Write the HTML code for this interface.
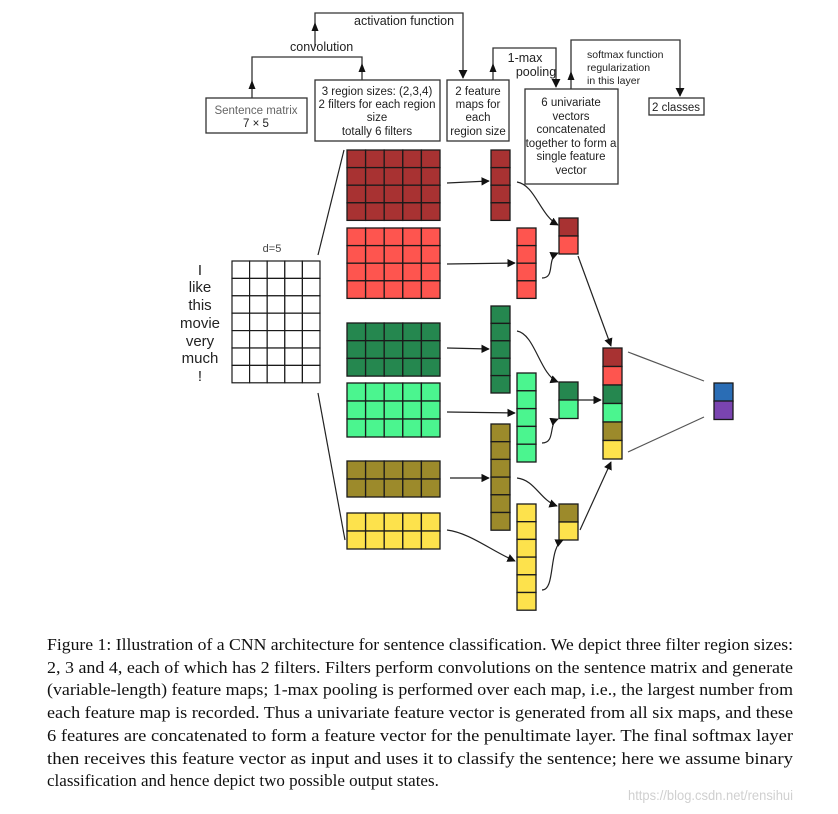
<!DOCTYPE html>
<html><head><meta charset="utf-8"><style>
html,body{margin:0;padding:0;background:#fff;width:838px;height:814px;overflow:hidden}
svg text{font-family:"Liberation Sans",sans-serif}
.cap{font-family:"Liberation Serif",serif;font-size:17px;fill:#111}
</style></head><body>
<svg id="s" width="838" height="814" viewBox="0 0 838 814" xmlns="http://www.w3.org/2000/svg">
<defs>
<marker id="a" viewBox="0 0 10 10" refX="9" refY="5" markerWidth="7" markerHeight="7" orient="auto-start-reverse"><path d="M0,0L10,5L0,10z" fill="#111"/></marker>
</defs>
<g fill="none" stroke="#333" stroke-width="1.3">
<rect x="206" y="98" width="101" height="35"/>
<rect x="315" y="80" width="125" height="61"/>
<rect x="447" y="80" width="62" height="61"/>
<rect x="525" y="89" width="93" height="95"/>
<rect x="649" y="98" width="55" height="17"/>
<path d="M252,98V57H362V80"/>
<path d="M315,47V13H463V78" marker-end="url(#a)"/>
<path d="M493,80V48H556V87" marker-end="url(#a)"/>
<path d="M571,89V40H680V96" marker-end="url(#a)"/>
</g>
<g fill="#111">
<path d="M252,80l-3.5,9h7z"/><path d="M362,63l-3.5,9h7z"/><path d="M315,22l-3.5,9h7z"/><path d="M493,63l-3.5,9h7z"/><path d="M571,71l-3.5,9h7z"/>
</g>
<g style="fill:#222">
<text x="256" y="114" font-size="11.5" text-anchor="middle" style="fill:#666">Sentence matrix</text>
<text x="256" y="127" font-size="11.5" text-anchor="middle">7 × 5</text>
<text x="290" y="51" font-size="12.5">convolution</text>
<text x="354" y="25" font-size="12.5">activation function</text>
<g font-size="11.5" text-anchor="middle">
<text x="377" y="95">3 region sizes: (2,3,4)</text>
<text x="377" y="108">2 filters for each region</text>
<text x="377" y="121">size</text>
<text x="377" y="135">totally 6 filters</text>
<text x="478" y="95">2 feature</text>
<text x="478" y="108">maps for</text>
<text x="478" y="121">each</text>
<text x="478" y="135">region size</text>
<text x="571" y="106">6 univariate</text>
<text x="571" y="120">vectors</text>
<text x="571" y="133">concatenated</text>
<text x="571" y="147">together to form a</text>
<text x="571" y="160">single feature</text>
<text x="571" y="174">vector</text>
<text x="676" y="111">2 classes</text>
<text x="525" y="62" font-size="12.5">1-max</text>
<text x="536" y="76" font-size="12.5">pooling</text>
</g>
<g font-size="10.5"><text x="587" y="58">softmax function</text><text x="587" y="71">regularization</text><text x="587" y="84">in this layer</text></g>
<text x="272" y="252" font-size="11" text-anchor="middle" style="fill:#444">d=5</text>
<g font-size="15" text-anchor="middle">
<text x="200" y="275">I</text><text x="200" y="292">like</text><text x="200" y="310">this</text><text x="200" y="328">movie</text><text x="200" y="346">very</text><text x="200" y="363">much</text><text x="200" y="381">!</text>
</g>
</g>
<g id="cells"></g>
<g fill="none" stroke="#222" stroke-width="1.2">
<path d="M318,255L344,150"/><path d="M318,393L345,540"/>
<path d="M447,183L489,181" marker-end="url(#a)"/>
<path d="M447,264L515,263" marker-end="url(#a)"/>
<path d="M447,348L489,349" marker-end="url(#a)"/>
<path d="M447,412L515,413" marker-end="url(#a)"/>
<path d="M450,478L489,478" marker-end="url(#a)"/>
<path d="M447,530C470,533 490,550 515,561" marker-end="url(#a)"/>
<path d="M517,182C535,185 540,215 558,225" marker-end="url(#a)"/>
<path d="M542,278C556,278 546,258 558,253" marker-end="url(#a)"/>
<path d="M517,331C535,334 540,375 558,382" marker-end="url(#a)"/>
<path d="M542,443C556,443 548,423 558,419" marker-end="url(#a)"/>
<path d="M517,478C535,480 540,500 557,506" marker-end="url(#a)"/>
<path d="M542,590C556,590 548,547 563,540" marker-end="url(#a)"/>
<path d="M578,256L611,346" marker-end="url(#a)"/>
<path d="M578,400L601,400" marker-end="url(#a)"/>
<path d="M580,530L611,462" marker-end="url(#a)"/>
<path d="M628,352L704,381" stroke="#555"/>
<path d="M628,452L704,417" stroke="#555"/>
</g>
<text class="cap" x="47" y="650" textLength="746" lengthAdjust="spacingAndGlyphs">Figure 1: Illustration of a CNN architecture for sentence classification. We depict three filter region sizes:</text>
<text class="cap" x="47" y="673" textLength="746" lengthAdjust="spacingAndGlyphs">2, 3 and 4, each of which has 2 filters. Filters perform convolutions on the sentence matrix and generate</text>
<text class="cap" x="47" y="695" textLength="746" lengthAdjust="spacingAndGlyphs">(variable-length) feature maps; 1-max pooling is performed over each map, i.e., the largest number from</text>
<text class="cap" x="47" y="718" textLength="746" lengthAdjust="spacingAndGlyphs">each feature map is recorded. Thus a univariate feature vector is generated from all six maps, and these</text>
<text class="cap" x="47" y="741" textLength="746" lengthAdjust="spacingAndGlyphs">6 features are concatenated to form a feature vector for the penultimate layer. The final softmax layer</text>
<text class="cap" x="47" y="764" textLength="746" lengthAdjust="spacingAndGlyphs">then receives this feature vector as input and uses it to classify the sentence; here we assume binary</text>
<text class="cap" x="47" y="786">classification and hence depict two possible output states.</text>
<text x="628" y="800" font-size="14" style="fill:#d0d0d0" textLength="165" lengthAdjust="spacingAndGlyphs">https://blog.csdn.net/rensihui</text>
</svg>
<script>
var g=document.getElementById('cells'),ns='http://www.w3.org/2000/svg';
function grid(x,y,cols,rows,w,h,fill,sw){for(var r=0;r<rows;r++)for(var c=0;c<cols;c++){var e=document.createElementNS(ns,'rect');e.setAttribute('x',x+c*w);e.setAttribute('y',y+r*h);e.setAttribute('width',w);e.setAttribute('height',h);e.setAttribute('fill',fill);e.setAttribute('stroke','#1a1a1a');e.setAttribute('stroke-width',sw||1.3);g.appendChild(e);}}
var DR='#a83232',LR='#fe554f',DG='#25874f',LG='#4bf58f',OL='#9c8a2b',YE='#fde24c';
grid(232,261,5,7,17.6,17.4,'#fff',1.2);
grid(347,150,5,4,18.6,17.6,DR);grid(347,228,5,4,18.6,17.6,LR);
grid(347,323,5,3,18.6,17.7,DG);grid(347,383,5,3,18.6,18,LG);
grid(347,461,5,2,18.6,18,OL);grid(347,513,5,2,18.6,18,YE);
grid(491,150,1,4,19,17.6,DR);grid(517,228,1,4,19,17.6,LR);
grid(491,306,1,5,19,17.4,DG);grid(517,373,1,5,19,17.8,LG);
grid(491,424,1,6,19,17.7,OL);grid(517,504,1,6,19,17.7,YE);
grid(559,218,1,1,19,18,DR);grid(559,236,1,1,19,18,LR);
grid(559,382,1,1,19,18.5,DG);grid(559,400,1,1,19,18.5,LG);
grid(559,504,1,1,19,18,OL);grid(559,522,1,1,19,18,YE);
[DR,LR,DG,LG,OL,YE].forEach(function(c,i){grid(603,348+i*18.5,1,1,19,18.5,c);});
grid(714,383,1,1,19,18.5,'#2a6db5');grid(714,401,1,1,19,18.5,'#7a44b0');
</script>
</body></html>
